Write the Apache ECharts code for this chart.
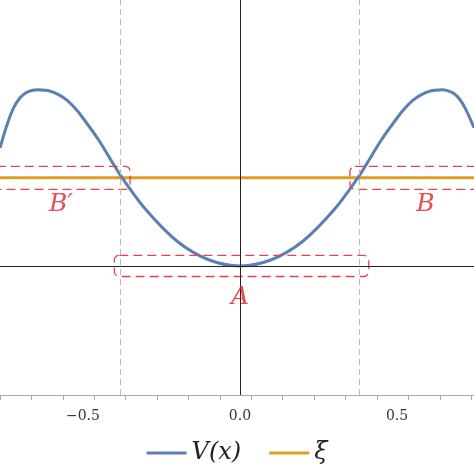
<!DOCTYPE html>
<html><head><meta charset="utf-8">
<script src="https://cdn.jsdelivr.net/npm/echarts@6/dist/echarts.min.js"></script>
<style>html,body{margin:0;padding:0;background:#fff}#c{width:474px;height:474px}</style>
</head><body><div id="c"></div>
<script>
// V(x) samples
const xs = [-0.764, -0.74, -0.72, -0.70, -0.68, -0.66, -0.645, -0.62, -0.6, -0.575, -0.55, -0.525, -0.5, -0.45, -0.4, -0.375, -0.3, -0.2, -0.1, 0,
  0.1, 0.2, 0.3, 0.375, 0.4, 0.45, 0.5, 0.525, 0.55, 0.575, 0.6, 0.62, 0.645, 0.66, 0.68, 0.70, 0.72, 0.745];
const vs = [1.34, 1.62, 1.80, 1.91, 1.97, 1.995, 2.0, 1.995, 1.98, 1.94, 1.88, 1.79, 1.68, 1.43, 1.14, 1.0, 0.64, 0.28, 0.07, 0,
  0.07, 0.28, 0.64, 1.0, 1.14, 1.43, 1.68, 1.79, 1.88, 1.94, 1.98, 1.995, 2.0, 1.99, 1.96, 1.89, 1.77, 1.57];
const xi = 1.0;
const turning = [-0.375, 0.375];
// boxes: [x0, x1, y0, y1]
const boxes = [[-0.79, -0.35, 0.87, 1.13], [0.35, 0.78, 0.87, 1.13], [-0.4, 0.41, -0.12, 0.12]];
const labels = [['B′', -0.57, 0.70], ['B', 0.59, 0.70], ['A', 0, -0.36]];

const chart = echarts.init(document.getElementById('c'));
chart.setOption({
  animation: false,
  grid: { left: 0, right: 0, top: 0, bottom: 79 },
  legend: {
    bottom: 4, itemWidth: 40, itemHeight: 3, itemGap: 28,
    icon: 'rect',
    textStyle: { fontFamily: 'DejaVu Serif', fontStyle: 'italic', fontSize: 24, color: '#222' },
    data: ['V(x)', 'ξ']
  },
  xAxis: {
    type: 'value', min: -0.764, max: 0.745, interval: 0.1,
    axisLine: { onZero: false, lineStyle: { color: '#aaa' } },
    axisTick: { length: 5, lineStyle: { color: '#aaa' } },
    splitLine: { show: false },
    axisLabel: {
      fontFamily: 'DejaVu Serif', fontSize: 14, color: '#333', margin: 14,
      customValues: [-0.5, 0, 0.5],
      formatter: v => (v < 0 ? '−' : '') + Math.abs(v).toFixed(1)
    }
  },
  yAxis: {
    type: 'value', min: -1.466, max: 3.02,
    axisLine: { show: false }, axisTick: { show: false }, axisLabel: { show: false }, splitLine: { show: false }
  },
  series: [
    {
      name: 'V(x)', type: 'line', smooth: 0.3, showSymbol: false, z: 3,
      data: xs.map((x, i) => [x, vs[i]]),
      lineStyle: { color: '#5b7fb5', width: 3 }, itemStyle: { color: '#5b7fb5' },
      markLine: {
        silent: true, symbol: 'none', label: { show: false },
        data: [
          { yAxis: 0, lineStyle: { color: '#222', width: 1, type: 'solid' } },
          { xAxis: 0, lineStyle: { color: '#222', width: 1, type: 'solid' } },
          ...turning.map(t => ({ xAxis: t, lineStyle: { color: '#bbb', width: 1, type: [6, 4] } }))
        ]
      }
    },
    {
      name: 'ξ', type: 'line', showSymbol: false, z: 2,
      data: [[-0.764, xi], [0.745, xi]],
      lineStyle: { color: '#e19c24', width: 3 }, itemStyle: { color: '#e19c24' }
    },
    {
      type: 'custom', z: 4, silent: true,
      data: boxes,
      renderItem: (params, api) => {
        const p0 = api.coord([api.value(0), api.value(3)]);
        const p1 = api.coord([api.value(1), api.value(2)]);
        return {
          type: 'rect',
          shape: { x: p0[0], y: p0[1], width: p1[0] - p0[0], height: p1[1] - p0[1], r: 5 },
          style: { fill: 'none', stroke: '#e8434d', lineWidth: 1.3, lineDash: [9, 5] }
        };
      }
    },
    {
      type: 'scatter', symbolSize: 0, silent: true, z: 5,
      data: labels.map(l => ({ value: [l[1], l[2]], name: l[0] })),
      label: {
        show: true, position: 'inside', formatter: p => p.name,
        fontFamily: 'DejaVu Serif', fontStyle: 'italic', fontSize: 25, color: '#e0202a'
      }
    }
  ]
});
</script></body></html>
